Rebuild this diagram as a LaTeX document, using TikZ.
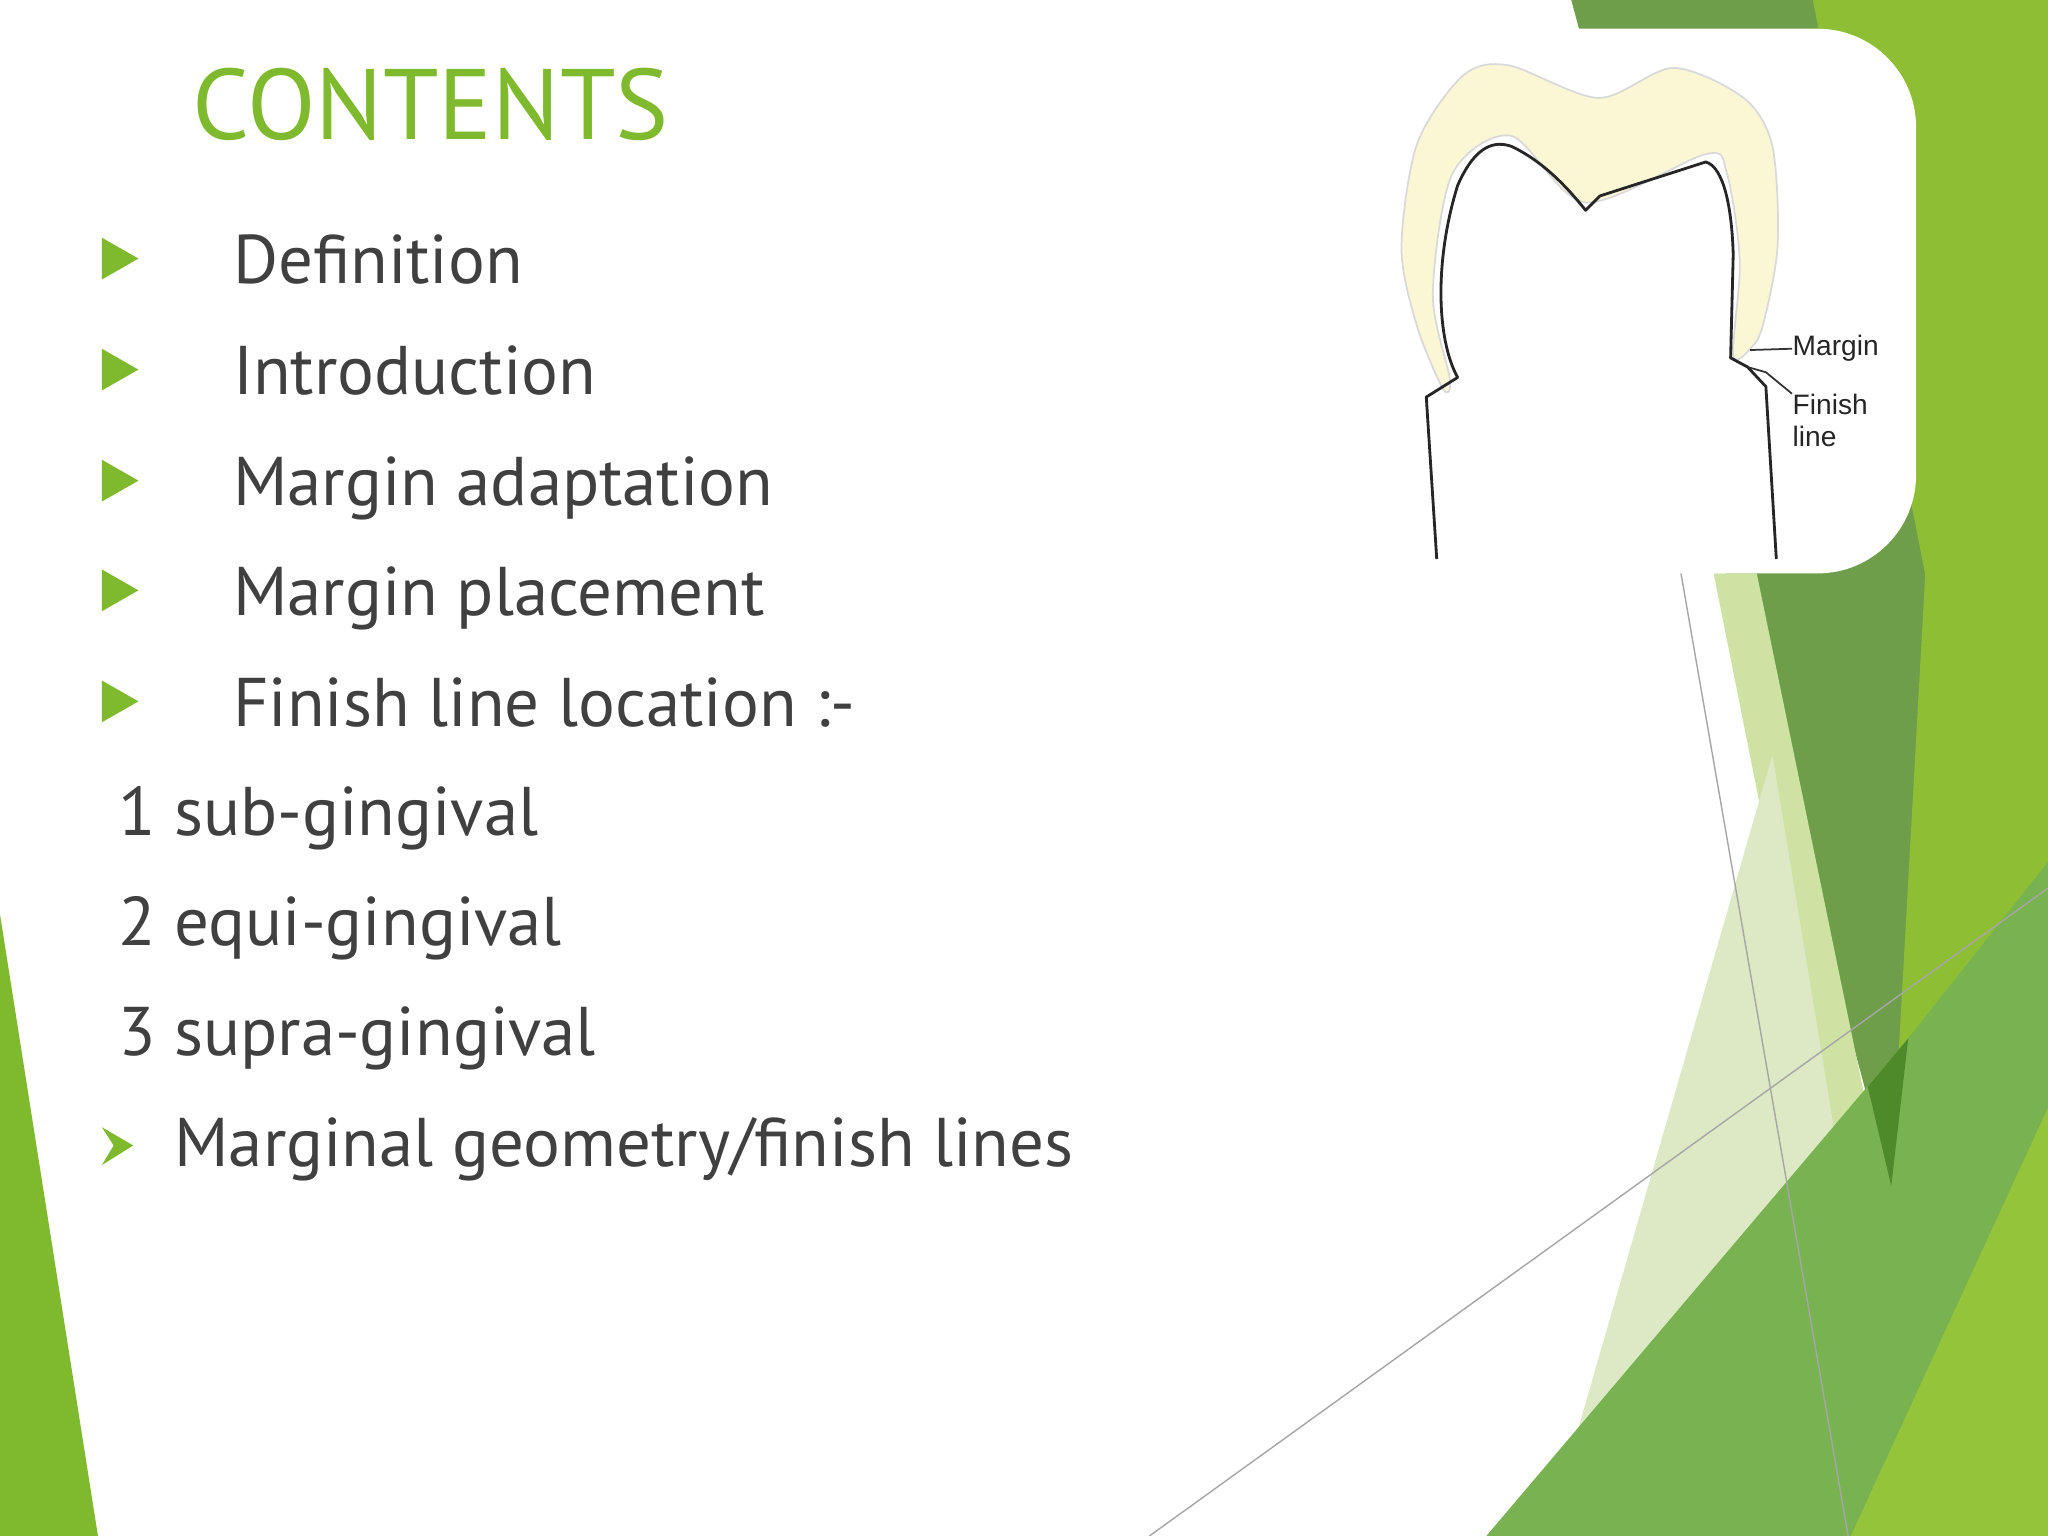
\documentclass[tikz,border=0pt]{standalone}
\usepackage{fontspec}
\setmainfont{PT Sans}
\newfontfamily\lblfont{Liberation Sans}
\definecolor{tgreen}{HTML}{7FBA2E}
\definecolor{olive}{HTML}{6E9E4A}
\definecolor{bright}{HTML}{8DBE34}
\definecolor{midg}{HTML}{79B250}
\definecolor{yg}{HTML}{94C43A}
\definecolor{pale}{HTML}{DCE9C4}
\definecolor{pale2}{HTML}{CDE2A3}
\definecolor{darkg}{HTML}{4F8A2A}
\definecolor{txt}{HTML}{404040}
\definecolor{enamel}{HTML}{FBF7D5}
\begin{document}
\begin{tikzpicture}[x=0.01306cm,y=-0.01306cm,
  body/.style={anchor=base west,text=txt,font=\fontsize{19.6}{24}\selectfont,inner sep=0},
  bul/.style={fill=tgreen},
  lbl/.style={anchor=west,font=\lblfont\fontsize{8}{9}\selectfont,text=black!85,inner sep=0,align=left},
  gline/.style={draw=black!35,line width=0.4pt},
  tooth/.style={draw=black!85,line width=0.8pt,line join=round}]
\useasboundingbox (0,0) rectangle (1568,1176);
\fill[white] (0,0) rectangle (1568,1176);
% background shapes
\fill[tgreen] (0,700) -- (75,1176) -- (0,1176) -- cycle;
\fill[olive] (1203,0) -- (1568,0) -- (1448,908) -- cycle;
\fill[bright] (1388,0) -- (1568,0) -- (1568,1176) -- (1430,1176) -- (1448,908) -- (1474,440) -- cycle;
\fill[pale2] (1312,439) -- (1345,439) -- (1440,900) -- (1400,880) -- cycle;
\fill[pale] (1208,1095) -- (1357,578) -- (1404,863) -- cycle;
\fill[midg] (1138,1176) -- (1461,795) -- (1568,660) -- (1568,1176) -- cycle;
\fill[darkg] (1430,832) -- (1461,795) -- (1448,908) -- cycle;
\fill[yg] (1417,1176) -- (1568,848) -- (1568,1176) -- cycle;
\draw[gline] (1287,439) -- (1415,1176);
\draw[gline] (880,1176) -- (1568,680);
% card
\fill[white,rounded corners=28] (1030,22) rectangle (1467,439);
% tooth
\fill[enamel,draw=black!15,line width=0.5pt] plot[smooth cycle,tension=0.5] coordinates {(1105,298) (1085,250) (1073,190) (1085,110) (1120,58) (1155,50) (1224,75) (1281,52) (1335,75) (1357,112) (1361,188) (1350,248) (1341,266) (1327,272) (1332,200) (1322,132) (1306,118) (1214,155) (1157,104) (1112,133) (1097,225) (1110,290)};
\draw[tooth] (1100,428) -- (1092,304) -- (1116,289) .. controls (1100,260) and (1098,200) .. (1116,142) .. controls (1130,110) and (1145,108) .. (1157,112) .. controls (1185,125) and (1205,150) .. (1214,161) -- (1225,150) -- (1306,124) .. controls (1320,128) and (1326,160) .. (1327,195) -- (1325,274) -- (1338,281) -- (1352,296) -- (1360,428);
\coordinate (mA) at (1340,268);
\coordinate (fA) at (1338,281);
\node[lbl] (margin) at (1372,267) {Margin};
\node[lbl] (finish) at (1372,322) {Finish\\line};
\draw[black!80,line width=0.5pt] (mA) -- (margin.west);
\draw[black!80,line width=0.5pt] (fA) -- (1352,285) -- (finish.north west);
% title and items
\node[anchor=base west,inner sep=0,text=tgreen,font=\fontsize{28.5}{34}\selectfont] (title) at (147,107) {CONTENTS};
\foreach \y/\t [count=\i] in {217/Definition,302/Introduction,387/Margin adaptation,471/Margin placement,556/Finish line location :-}{
  \fill[bul] (78,\y-35) -- (106,\y-19) -- (78,\y-3) -- cycle;
  \node[body] (it\i) at (178,\y) {\t};
}
\node[body] (n1) at (90,640) {1 sub-gingival};
\node[body] (n2) at (90,724) {2 equi-gingival};
\node[body] (n3) at (90,808) {3 supra-gingival};
\fill[bul] (78,863) -- (102,877) -- (78,892) -- (87,877) -- cycle;
\node[body] (last) at (133,893) {Marginal geometry/finish lines};
\end{tikzpicture}
\end{document}
